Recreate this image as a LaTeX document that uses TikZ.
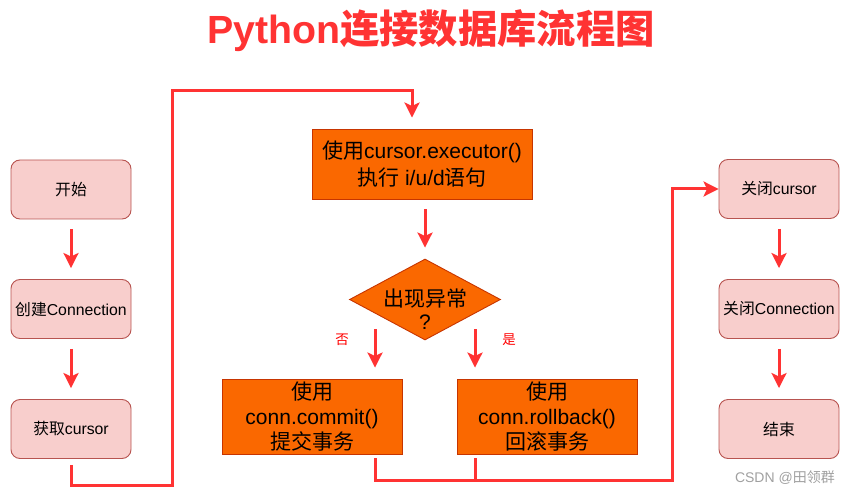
\documentclass[tikz,border=0pt]{standalone}
\usepackage{fontspec}
\setmainfont{Liberation Sans}
\newfontfamily\cjk{Noto Sans CJK SC}
\usetikzlibrary{shapes.geometric,arrows.meta,calc}
\definecolor{pinkfill}{HTML}{F8CECC}
\definecolor{pinkdraw}{HTML}{B85450}
\definecolor{orangefill}{HTML}{FA6800}
\definecolor{orangedraw}{HTML}{C73500}
\definecolor{arrowred}{HTML}{FF3333}
\definecolor{titlered}{HTML}{FF3333}
\definecolor{labelred}{HTML}{FF0000}
\definecolor{markgray}{HTML}{A0A0A0}
\begin{document}
\begin{tikzpicture}[x=1pt,y=-1pt,
  pinkbox/.style={draw=pinkdraw, fill=pinkfill, rounded corners=9pt, minimum width=120pt, minimum height=59pt, inner sep=0pt, line width=0.9pt, font=\fontsize{15.8}{18}\selectfont},
  orangebox/.style={draw=orangedraw, fill=orangefill, inner sep=0pt, line width=0.9pt, align=center},
  flow/.style={draw=arrowred, line width=3pt},
  arr/.style={flow, -{Stealth[length=15pt,width=15pt,inset=3.5pt]}},
  gapped/.style={shorten <=10pt, shorten >=11pt},
  branchlabel/.style={text=labelred, font=\fontsize{13.5}{15}\selectfont\cjk, inner sep=0pt}]
\path[use as bounding box] (0,0) rectangle (850,494);

% title
\node[font=\fontsize{39.3}{45}\selectfont\bfseries, text=titlered, inner sep=0pt] (title) at (431,31) {Python{\cjk 连接数据库流程图}};

% left column
\node[pinkbox] (start) at (71,189.5) {\cjk 开始};
\node[pinkbox] (conn) at (71,309) {{\cjk 创建}Connection};
\node[pinkbox] (cur) at (71,429) {{\cjk 获取}cursor};

% center
\node[orangebox, minimum width=220pt, minimum height=70pt, font=\fontsize{21}{27.5}\selectfont] (exec) at (422,164) {{\cjk 使用}cursor.executor()\\{\cjk 执行} i/u/d{\cjk 语句}};
\node[diamond, draw=orangedraw, fill=orangefill, line width=0.9pt, minimum width=151pt, minimum height=81pt, inner sep=0pt] (dia) at (425,299.5) {};
\node[align=center, inner sep=0pt, font=\fontsize{21}{23.5}\selectfont] (diatext) at (425,309) {{\cjk 出现异常}\\?};
\node[orangebox, minimum width=180pt, minimum height=75pt, font=\fontsize{21}{25}\selectfont] (commit) at (312,416.5) {{\cjk 使用}\\conn.commit()\\{\cjk 提交事务}};
\node[orangebox, minimum width=180pt, minimum height=75pt, font=\fontsize{21}{25}\selectfont] (rollback) at (547,416.5) {{\cjk 使用}\\conn.rollback()\\{\cjk 回滚事务}};
\node[branchlabel] (no) at (342,340) {否};
\node[branchlabel] (yes) at (509,340) {是};

% right column
\node[pinkbox] (cc) at (779,189) {{\cjk 关闭}cursor};
\node[pinkbox] (cconn) at (779,309) {{\cjk 关闭}Connection};
\node[pinkbox] (finish) at (779,429) {\cjk 结束};

% watermark
\node[anchor=east, text=markgray, inner sep=0pt, font=\fontsize{14}{16}\selectfont] (mark) at (835,478) {CSDN @{\cjk 田领群}};

% connectors
\coordinate (lb) at (172,485);
\coordinate (lt) at (172,91);
\coordinate (ns) at (375,329);
\coordinate (ys) at (475,329);
\coordinate (j) at (672,480);

\draw[arr, gapped] (start) -- (conn);
\draw[arr, gapped] (conn) -- (cur);
\draw[arr, shorten <=6pt, shorten >=11pt] (cur.south) |- (lb) -- (lt) -| ([xshift=-10pt]exec.north);
\draw[arr, gapped] ([xshift=3pt]exec.south) -- (dia.north);
\draw[arr, shorten >=11pt] (ns) -- (ns |- commit.north);
\draw[arr, shorten >=11pt] (ys) -- (ys |- rollback.north);
\draw[flow, shorten <=4pt] (ys |- rollback.south) -- (ys |- j);
\draw[arr, shorten <=4pt] (ns |- commit.south) |- (j) |- (cc.west);
\draw[arr, gapped] (cc) -- (cconn);
\draw[arr, gapped] (cconn) -- (finish);
\end{tikzpicture}
\end{document}
